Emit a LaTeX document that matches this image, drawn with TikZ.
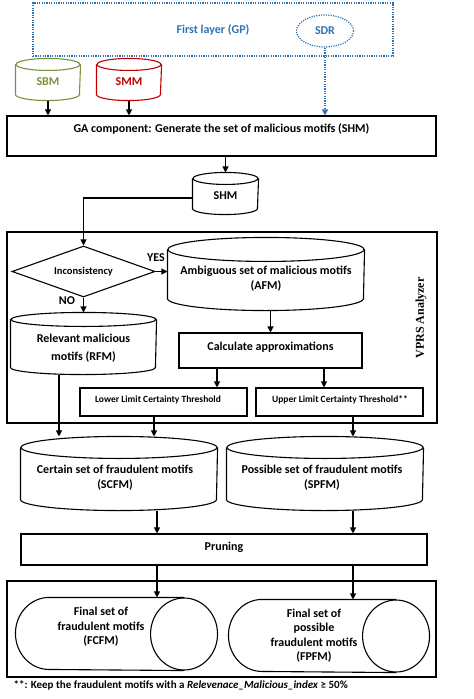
\documentclass[tikz,border=0pt]{standalone}
\usepackage{fontspec}
\setmainfont{Carlito}
\newfontfamily\serifbf{Liberation Serif}
\usetikzlibrary{arrows.meta,shapes.geometric,fit}
\definecolor{gpblue}{HTML}{2E74B5}
\definecolor{sbmgreen}{HTML}{76923C}
\definecolor{smmred}{HTML}{C00000}
\newcommand\VCyl[7]{%
  \node[fit={(#3,#4) (#5,#6)}, inner sep=0pt] (#2) {};
  \pgfmathsetmacro\cylrx{(#5-#3)/2}%
  \draw[#1] ([yshift=-#7pt]#2.north west) -- ([yshift=#7pt]#2.south west)
    arc[start angle=180, end angle=360, x radius=\cylrx pt, y radius=#7pt]
    -- ([yshift=-#7pt]#2.north east);
  \draw[#1] ([yshift=-#7pt]#2.north) ellipse [x radius=\cylrx pt, y radius=#7pt];
}
\newcommand\HCyl[7]{%
  \node[fit={(#3,#4) (#5,#6)}, inner sep=0pt] (#2) {};
  \pgfmathsetmacro\cylry{(#6-#4)/2}%
  \draw[#1] ([xshift=-#7pt]#2.north east) -- ([xshift=#7pt]#2.north west)
    arc[start angle=90, end angle=270, x radius=#7pt, y radius=\cylry pt]
    -- ([xshift=-#7pt]#2.south east);
  \draw[#1] ([xshift=-#7pt]#2.east) ellipse [x radius=#7pt, y radius=\cylry pt];
}
\begin{document}
\begin{tikzpicture}[x=1pt, y=-1pt,
  line width=1.1pt,
  font=\bfseries\fontsize{12}{14.4}\selectfont,
  shapeline/.style={draw=black, line width=1.1pt},
  box/.style={draw=black, line width=1.1pt, inner sep=2pt},
  txt/.style={align=center, inner sep=0pt},
  small/.style={font=\bfseries\fontsize{9.5}{11}\selectfont},
  arr/.style={-{Triangle[length=6pt,width=6pt]}, line width=1.1pt},
  dotline/.style={draw=gpblue, line width=1.2pt, dash pattern=on 1.2pt off 1.2pt},
  sdrarr/.style={-{Triangle[length=6pt,width=6pt]}, gpblue, line width=1.2pt, dash pattern=on 1.2pt off 1.2pt}
]
\useasboundingbox (0,0) rectangle (474,699);

% first layer
\node[fit={(33,3) (393,56)}, inner sep=0pt, dotline] (gp) {};
\node[txt, text=gpblue] (gpt) at (213,30) {First layer (GP)};
\node[ellipse, dotline, minimum width=57pt, minimum height=32pt, inner sep=0pt, text=gpblue] (sdr) at (325,31) {SDR};

% sources
\VCyl{draw=sbmgreen, line width=1.1pt}{sbm}{16}{59}{80}{100}{6}
\node[txt, text=sbmgreen] (sbmt) at (48,82) {SBM};
\VCyl{draw=smmred, line width=1.1pt}{smm}{97}{59}{161}{100}{6}
\node[txt, text=smmred] (smmt) at (129,82) {SMM};

% GA component
\node[box, minimum width=429pt, minimum height=40pt] (ga) at (221.5,136) {};
\node[txt] (gat) at (221.5,129) {GA component: Generate the set of malicious motifs (SHM)};

\draw[arr] (sbm.south) -- (sbm.south |- ga.north);
\draw[arr] (smm.south) -- (smm.south |- ga.north);
\draw[sdrarr] (sdr.south) -- (sdr.south |- ga.north);

% SHM
\VCyl{shapeline}{shm}{193}{173}{258}{214}{6}
\node[txt] (shmt) at (225.5,196) {SHM};
\draw[arr] (ga.south -| shm.north) -- (shm.north);

% VPRS analyzer
\node[box, minimum width=430pt, minimum height=191pt] (vprs) at (222,327.5) {};
\node[rotate=90, inner sep=0pt, font=\serifbf\bfseries\fontsize{12}{14}\selectfont] (vprsl) at (421,318) {VPRS Analyzer};

\node[diamond, draw=black, line width=1.1pt, minimum width=143pt, minimum height=51pt, aspect=2.8, inner sep=0pt, font=\bfseries\fontsize{10.5}{12}\selectfont] (inc) at (83.5,271.5) {Inconsistency};
\draw[arr] ([yshift=-4.5pt]shm.west) -| (inc.north);

\VCyl{shapeline}{afm}{168}{238}{364}{310}{12}
\node[txt] (afmt) at (266,278.5) {Ambiguous set of malicious motifs\\(AFM)};
\draw[arr] (inc.east) -- (inc.east -| afm.west);
\node[txt] (yes) at (156,258) {YES};

\VCyl{shapeline}{rfm}{11}{313}{156}{374}{7}
\node[txt] (rfmt) at (83.5,348) {Relevant malicious\\[3.6pt]motifs (RFM)};
\draw[arr] (inc.south) -- (inc.south |- rfm.north);
\node[txt] (no) at (67,301) {NO};

\node[box, minimum width=183pt, minimum height=35pt] (calc) at (270.5,350.5) {};
\node[txt] (calct) at (270.5,347) {Calculate approximations};
\draw[arr] (afm.south -| calc.north) -- (calc.north);

\node[box, small, minimum width=167pt, minimum height=28pt] (lower) at (163.5,402) {};
\node[txt, small] (lowert) at (158,399.5) {Lower Limit Certainty Threshold};
\node[box, small, minimum width=167pt, minimum height=28pt] (upper) at (339.5,402) {};
\node[txt, small] (uppert) at (340,399.5) {Upper Limit Certainty Threshold**};

\coordinate (xa) at (217,0);
\coordinate (xb) at (324,0);
\coordinate (xc) at (59,0);
\coordinate (xd) at (154,0);
\coordinate (xe) at (353,0);
\coordinate (xf) at (157,0);

\draw[arr] (calc.south -| xa) -- (xa |- lower.north);
\draw[arr] (calc.south -| xb) -- (xb |- upper.north);

% certain / possible sets
\VCyl{shapeline}{scfm}{21}{437}{217}{510}{11}
\node[txt] (scfmt) at (115,477.5) {Certain set of fraudulent motifs\\(SCFM)};
\VCyl{shapeline}{spfm}{227}{437}{423}{510}{11}
\node[txt] (spfmt) at (322,477.5) {Possible set of fraudulent motifs\\(SPFM)};

\draw[arr] (rfm.south -| xc) -- (xc |- scfm.north);
\draw[arr] (lower.south -| xd) -- (xd |- scfm.north);
\draw[arr] (upper.south -| xe) -- (xe |- spfm.north);

% pruning
\node[box, minimum width=406pt, minimum height=31pt] (prun) at (224,549.5) {};
\node[txt] (prunt) at (224,547.5) {Pruning};
\draw[arr] (scfm.south -| xf) -- (xf |- prun.north);
\draw[arr] (spfm.south -| xe) -- (xe |- prun.north);

% final sets
\node[box, minimum width=429pt, minimum height=96pt] (final) at (221.5,629) {};
\HCyl{shapeline}{fcfm}{16}{598}{217}{670}{33.5}
\node[txt] (fcfmt) at (101,627) {Final set of\\fraudulent motifs\\(FCFM)};
\HCyl{shapeline}{fpfm}{229}{600}{429}{672}{33.5}
\node[txt] (fpfmt) at (314,635.5) {Final set of\\possible\\fraudulent motifs\\(FPFM)};
\draw[arr] (prun.south -| xf) -- (xf |- fcfm.north);
\draw[arr] (prun.south -| xe) -- (xe |- fpfm.north);

% footnote
\node[anchor=west, inner sep=0pt, font=\bfseries\fontsize{11}{13}\selectfont] (note) at (13,685) {**: Keep the fraudulent motifs with a \textit{Relevenace\_Malicious\_index} ≥ 50\%};
\end{tikzpicture}
\end{document}
